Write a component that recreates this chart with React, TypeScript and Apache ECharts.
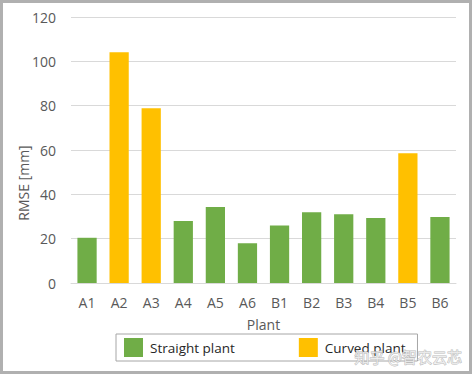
import React, { useEffect, useRef } from "react";
import * as echarts from "echarts";

const categories = ["A1", "A2", "A3", "A4", "A5", "A6", "B1", "B2", "B3", "B4", "B5", "B6"];
const straightValues: (number | string)[] = [20.4, "-", "-", 28, 34.3, 17.9, 25.9, 31.9, 31, 29.3, "-", 29.8];
const curvedValues: (number | string)[] = ["-", 104.1, 78.8, "-", "-", "-", "-", "-", "-", "-", 58.5, "-"];
const seriesNames = ["Straight plant", "Curved plant"];
const yTicks = { min: 0, max: 120, interval: 20 };

const FONT = "'Open Sans', 'Noto Sans', sans-serif";
const TXT = "#595959";

export default function App() {
  const ref = useRef<HTMLDivElement>(null);
  useEffect(() => {
    if (!ref.current) return;
    const chart = echarts.init(ref.current, null, { renderer: "svg" });
    chart.setOption({
      animation: false,
      backgroundColor: "#ffffff",
      textStyle: { fontFamily: FONT },
      grid: { left: 71, right: 18, top: 17, bottom: 95 },
      xAxis: {
        type: "category",
        data: categories,
        axisLine: { show: true, lineStyle: { color: "#d9d9d9", width: 1 } },
        axisTick: { show: false },
        axisLabel: { color: TXT, fontSize: 14, fontFamily: FONT, margin: 12 },
        name: "Plant",
        nameLocation: "middle",
        nameGap: 34,
        nameTextStyle: { color: TXT, fontSize: 14, fontFamily: FONT },
      },
      yAxis: {
        type: "value",
        min: yTicks.min,
        max: yTicks.max,
        interval: yTicks.interval,
        axisLine: { show: false },
        axisTick: { show: false },
        splitLine: { lineStyle: { color: "#d9d9d9", width: 1 } },
        axisLabel: { color: TXT, fontSize: 14, fontFamily: FONT, margin: 15 },
      },
      legend: {
        data: seriesNames,
        left: 116,
        top: 334,
        itemWidth: 19,
        itemHeight: 19,
        itemGap: 64,
        padding: [4, 12, 4, 8],
        borderColor: "#a6a6a6",
        borderWidth: 1,
        icon: "rect",
        textStyle: { color: "#262626", fontSize: 13.5, fontFamily: FONT, padding: [0, 0, 0, 2] },
      },
      series: [
        {
          name: seriesNames[0],
          type: "bar",
          stack: "all",
          data: straightValues,
          barWidth: "60%",
          itemStyle: { color: "#70ad47" },
        },
        {
          name: seriesNames[1],
          type: "bar",
          stack: "all",
          data: curvedValues,
          barWidth: "60%",
          itemStyle: { color: "#ffc000" },
        },
      ],
      graphic: [
        {
          type: "rect",
          shape: { x: 1.5, y: 1.5, width: 469, height: 371 },
          style: { fill: "none", stroke: "#b0b0b0", lineWidth: 3 },
          silent: true,
        },
        {
          type: "text",
          x: 23,
          y: 183,
          rotation: Math.PI / 2,
          style: {
            text: "RMSE [mm]",
            fill: TXT,
            font: `14px ${FONT}`,
            align: "center",
            verticalAlign: "middle",
          },
        },
        {
          type: "text",
          x: 462,
          y: 356,
          style: {
            text: "知乎 @智农云芯",
            fill: "rgba(255,255,255,0.7)",
            stroke: "rgba(170,170,170,0.8)",
            lineWidth: 1,
            font: `15px 'Noto Sans CJK SC', sans-serif`,
            align: "right",
            verticalAlign: "middle",
          },
          z: 100,
        },
      ],
    });
    return () => chart.dispose();
  }, []);
  return (
    <div
      ref={ref}
      style={{ position: "fixed", left: 0, top: 0, width: 474, height: 378 }}
    />
  );
}
